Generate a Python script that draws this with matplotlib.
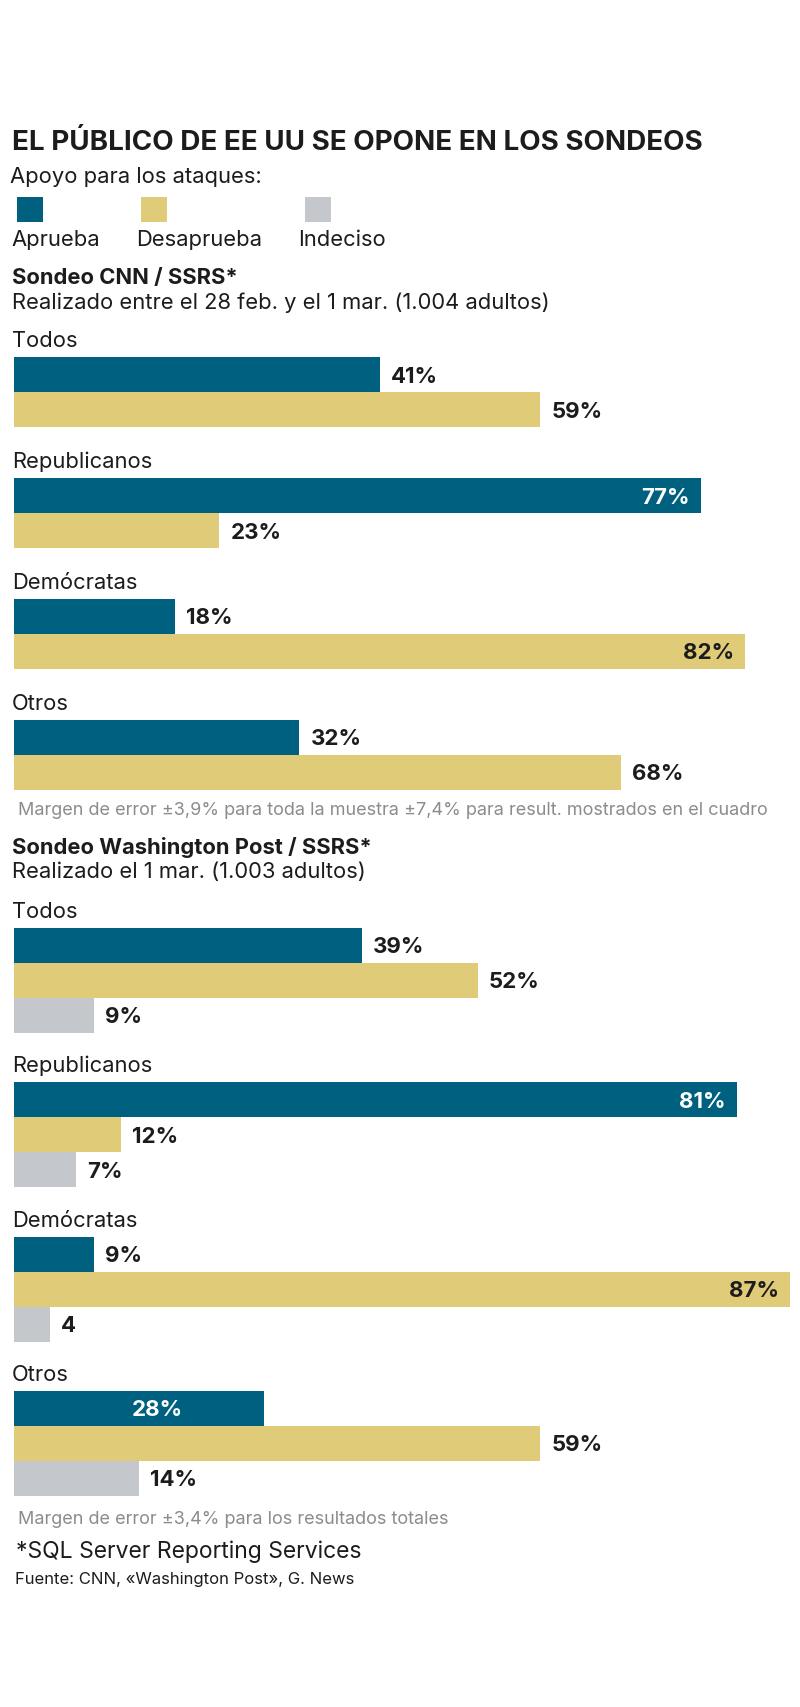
import numpy as np
import matplotlib.pyplot as plt
from matplotlib.patches import Rectangle

plt.rcParams['font.family'] = ['Inter', 'DejaVu Sans']

# data
groups = ['Todos', 'Republicanos', 'Demócratas', 'Otros']
cnn_aprueba = [41, 77, 18, 32]
cnn_desaprueba = [59, 23, 82, 68]
wp_aprueba = [39, 81, 9, 28]
wp_desaprueba = [52, 12, 87, 59]
wp_indeciso = [9, 7, 4, 14]
wp_indeciso_txt = ['9%', '7%', '4', '14%']
series_names = ['Aprueba', 'Desaprueba', 'Indeciso']
colors = ['#006080', '#dfcb78', '#c4c8cc']

W, H = 800, 1708
X0 = 14          # left edge of bars in px
PX_PCT = 8.92    # px per percentage point
BAR_H = 35
DARK = '#1c1c1c'
GREY_TXT = '#8c8c8c'
FS = 15.8        # body text size
FS_LAB = 16

fig = plt.figure(figsize=(W / 100, H / 100), dpi=100)
fig.patch.set_facecolor('white')
ax = fig.add_axes([X0 / W, 0, 1 - X0 / W, 1])
ax.set_xlim(0, (W - X0) / PX_PCT)
ax.set_ylim(H, 0)
ax.axis('off')


def ftext(x, y, s, **kw):
    kw.setdefault('color', DARK)
    kw.setdefault('va', 'baseline')
    fig.text(x / W, 1 - y / H, s, **kw)


def draw_section(top, step, series, texts, inside_mid=()):
    for g, name in enumerate(groups):
        gtop = top + g * step
        ftext(12, gtop - 11, name, fontsize=FS)
        for k, vals in enumerate(series):
            v = vals[g]
            yc = gtop + k * BAR_H + BAR_H / 2
            ax.barh(yc, v, height=BAR_H, left=0, color=colors[k], linewidth=0)
            lab = texts[k][g]
            if (g, k) in inside_mid:
                ax.annotate(lab, (v, yc + 1), xytext=(-58, 0), textcoords='offset points',
                            ha='right', va='center', fontsize=FS_LAB, fontweight='bold', color='white')
            elif v >= 75:
                c = 'white' if k == 0 else DARK
                ax.annotate(lab, (v, yc + 1), xytext=(-8, 0), textcoords='offset points',
                            ha='right', va='center', fontsize=FS_LAB, fontweight='bold', color=c)
            else:
                ax.annotate(lab, (v, yc + 1), xytext=(8, 0), textcoords='offset points',
                            ha='left', va='center', fontsize=FS_LAB, fontweight='bold', color=DARK)


# header
ftext(12, 150, 'EL PÚBLICO DE EE UU SE OPONE EN LOS SONDEOS', fontsize=20, fontweight='bold')
ftext(10, 183, 'Apoyo para los ataques:', fontsize=FS)
for sx, lx, name, c in zip([17, 141, 305], [11, 136, 298], series_names, colors):
    fig.patches.append(Rectangle((sx / W, 1 - 223 / H), 26 / W, 25 / H,
                                 transform=fig.transFigure, color=c, linewidth=0))
    ftext(lx, 246, name, fontsize=FS)

# CNN section
ftext(12, 284, 'Sondeo CNN / SSRS*', fontsize=FS, fontweight='bold')
ftext(12, 309, 'Realizado entre el 28 feb. y el 1 mar. (1.004 adultos)', fontsize=FS)
cnn_txt = [[f'{v}%' for v in cnn_aprueba], [f'{v}%' for v in cnn_desaprueba]]
draw_section(358.3, 120.8, [cnn_aprueba, cnn_desaprueba], cnn_txt)
ftext(18, 815, 'Margen de error ±3,9% para toda la muestra ±7,4% para result. mostrados en el cuadro',
      fontsize=13, color=GREY_TXT)

# Washington Post section
ftext(12, 854, 'Sondeo Washington Post / SSRS*', fontsize=FS, fontweight='bold')
ftext(12, 878, 'Realizado el 1 mar. (1.003 adultos)', fontsize=FS)
wp_txt = [[f'{v}%' for v in wp_aprueba], [f'{v}%' for v in wp_desaprueba], wp_indeciso_txt]
draw_section(929, 154.3, [wp_aprueba, wp_desaprueba, wp_indeciso], wp_txt, inside_mid=[(3, 0)])
ftext(18, 1524, 'Margen de error ±3,4% para los resultados totales', fontsize=13, color=GREY_TXT)

# footer
ftext(16, 1558, '*SQL Server Reporting Services', fontsize=16.5)
ftext(15, 1584, 'Fuente: CNN, «Washington Post», G. News', fontsize=12)

fig.savefig('out.png', dpi=100, facecolor='white')
